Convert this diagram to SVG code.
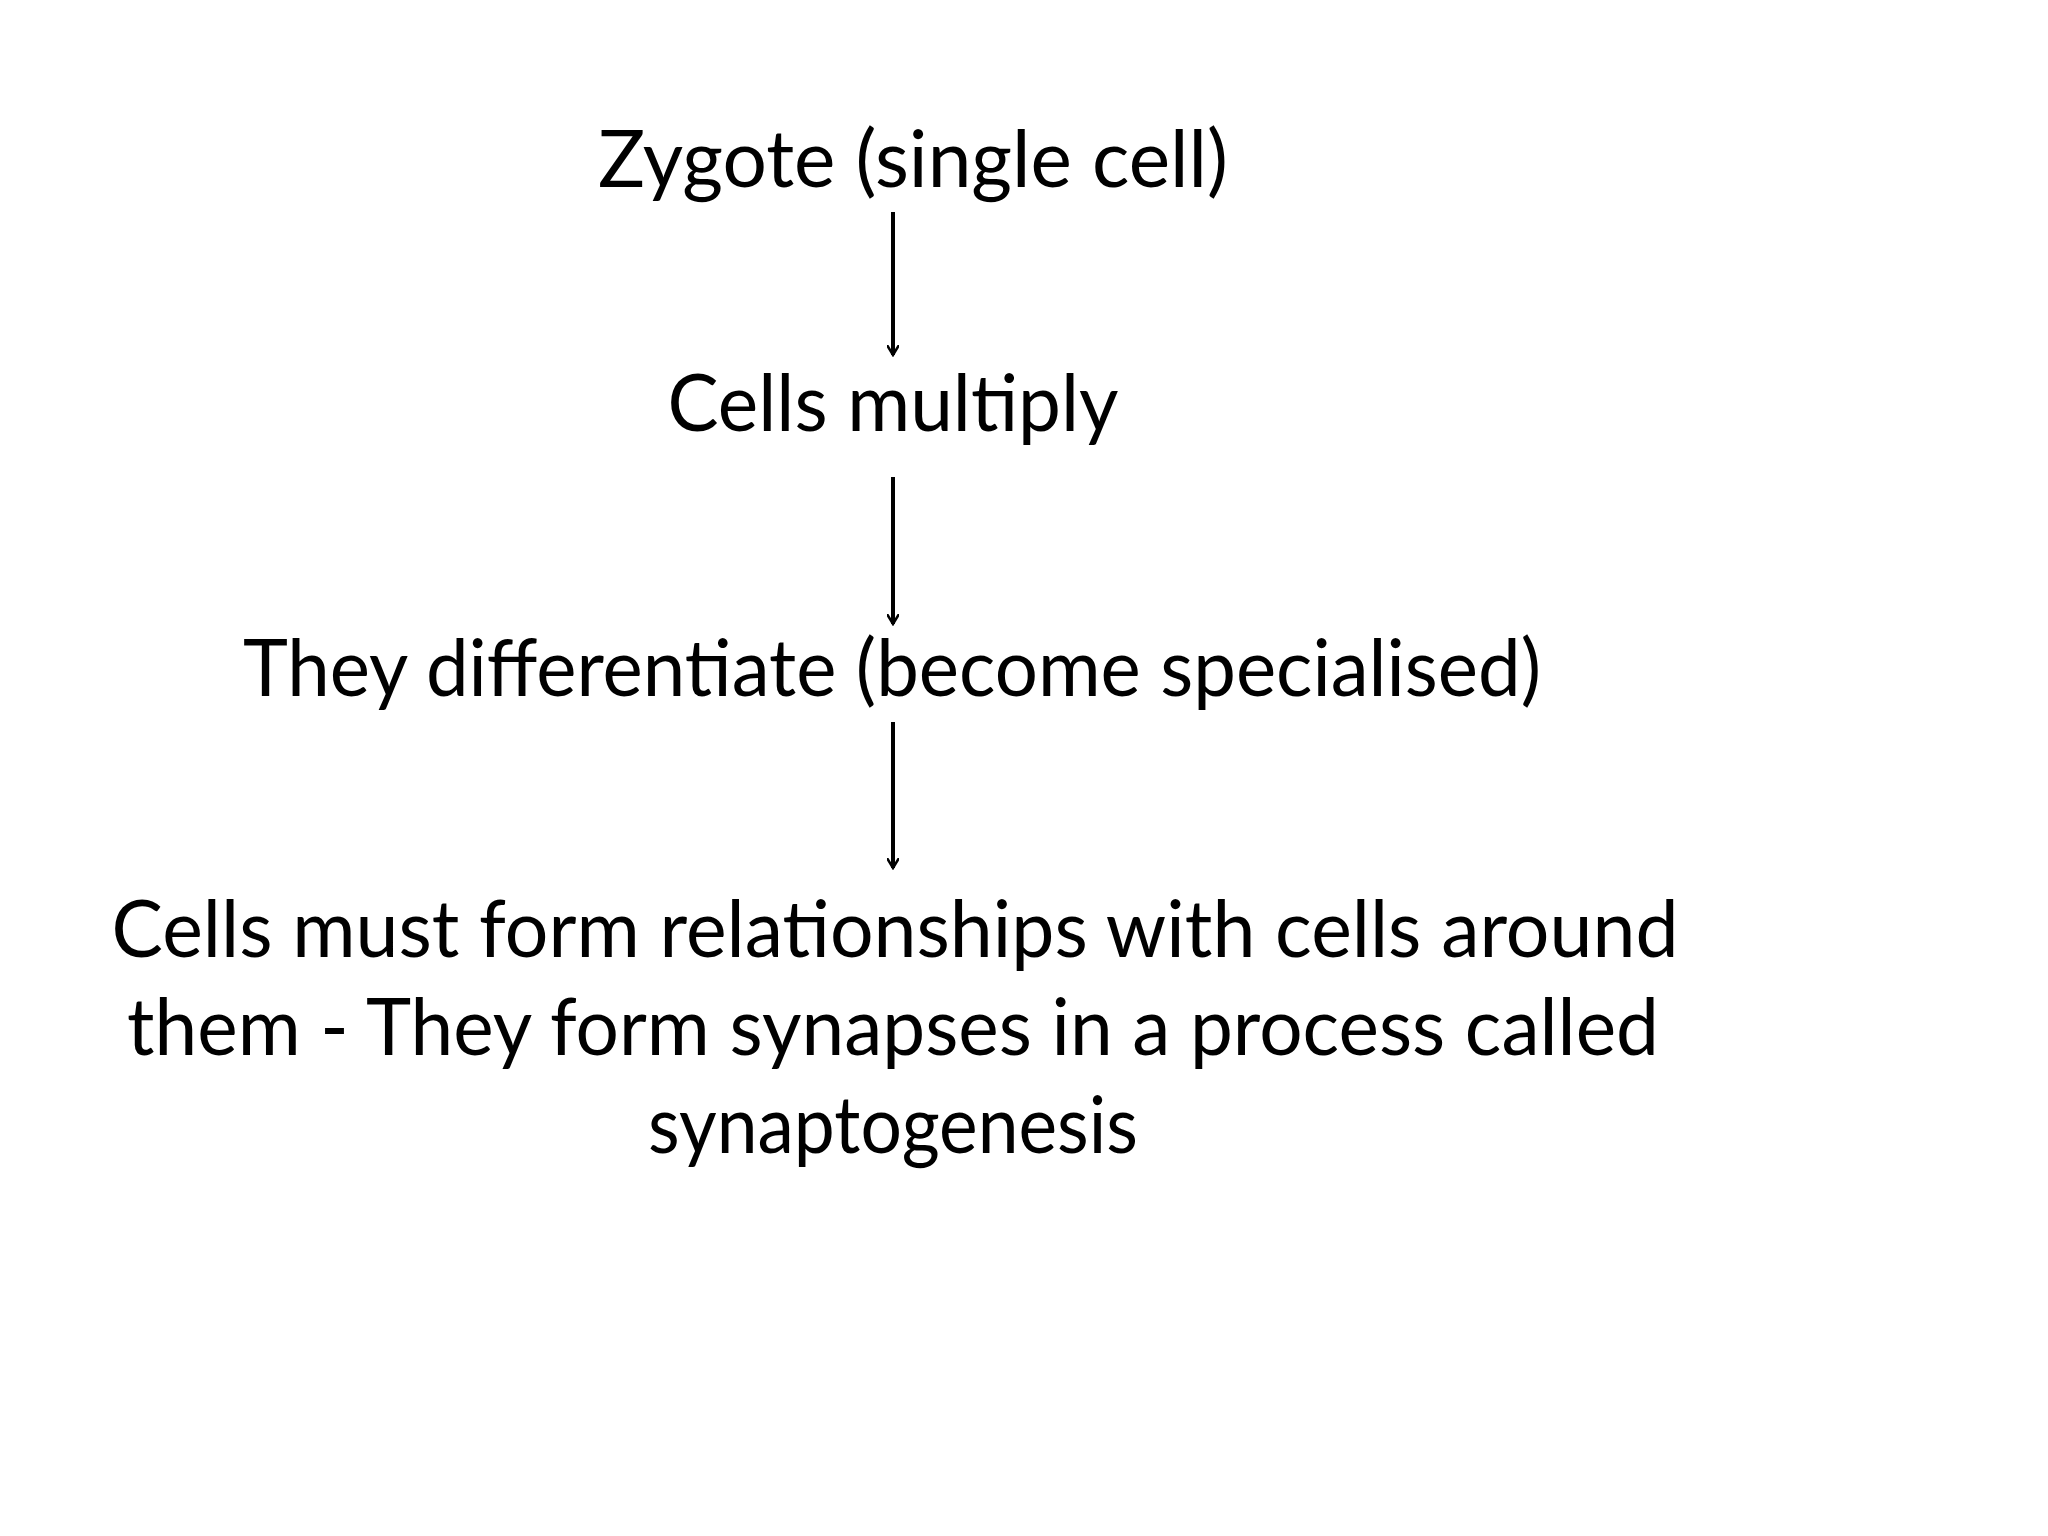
<svg xmlns="http://www.w3.org/2000/svg" width="2048" height="1536" viewBox="0 0 2048 1536">
<style>
text{font-family:Lato,"Liberation Sans",sans-serif;font-size:80px;fill:#000;text-anchor:middle}
.c{stroke:#000;stroke-width:4;fill:none}
</style>
<defs><marker id="a" markerWidth="12" markerHeight="12" refX="10" refY="6" orient="auto" markerUnits="userSpaceOnUse"><path d="M0,0 L10,6 L0,12" fill="none" stroke="#000" stroke-width="2.5"/></marker></defs>
<rect width="2048" height="1536" fill="#fff"/>
<g id="n1"><text x="913" y="187" textLength="630" lengthAdjust="spacingAndGlyphs">Zygote (single cell)</text></g>
<g id="n2"><text x="893" y="431" textLength="451" lengthAdjust="spacingAndGlyphs">Cells multiply</text></g>
<g id="n3"><text x="892" y="696" textLength="1298" lengthAdjust="spacingAndGlyphs">They differentiate (become specialised)</text></g>
<g id="n4">
<text x="895" y="957" textLength="1567" lengthAdjust="spacingAndGlyphs">Cells must form relationships with cells around</text>
<text x="893" y="1055" textLength="1532" lengthAdjust="spacingAndGlyphs">them - They form synapses in a process called</text>
<text x="893" y="1153" textLength="490" lengthAdjust="spacingAndGlyphs">synaptogenesis</text>
</g>
<g id="connectors">
<line class="c" x1="893" y1="212" x2="893" y2="355" marker-end="url(#a)"/>
<line class="c" x1="893" y1="477" x2="893" y2="624" marker-end="url(#a)"/>
<line class="c" x1="893" y1="722" x2="893" y2="868" marker-end="url(#a)"/>
</g>
</svg>
